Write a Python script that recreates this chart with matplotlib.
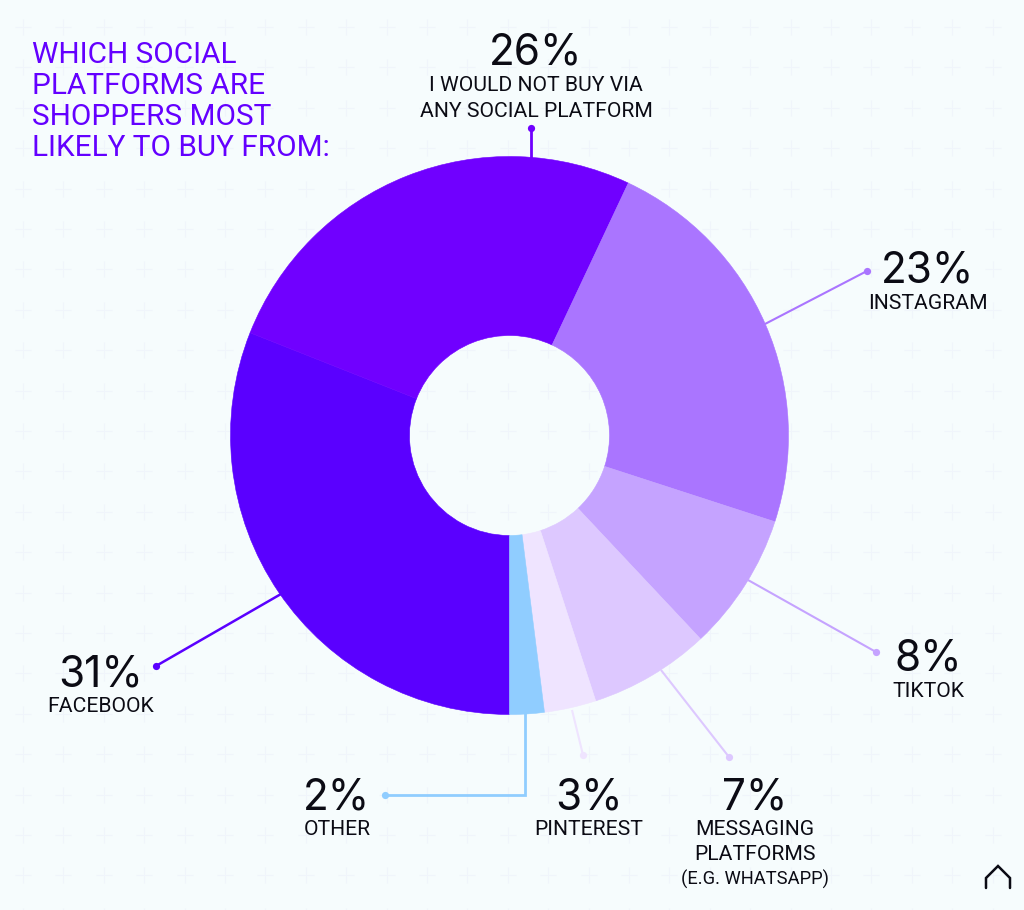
import matplotlib
matplotlib.use("Agg")
import matplotlib.pyplot as plt

W, H = 1024, 910
BG = "#F6FCFD"
INK = "#0B0B14"
LABEL_FONT = "Roboto"

platforms = ["Facebook", "I would not buy via any social platform", "Instagram",
             "TikTok", "Messaging platforms", "Pinterest", "Other"]
values = [31, 26, 23, 8, 7, 3, 2]
colors = ["#5A00FF", "#7000FF", "#AA75FF", "#C5A3FF", "#DDC8FF", "#EFE4FF", "#90CDFF"]
title_lines = ["WHICH SOCIAL", "PLATFORMS ARE", "SHOPPERS MOST", "LIKELY TO BUY FROM:"]

fig = plt.figure(figsize=(W / 100, H / 100), dpi=100, facecolor=BG)

# pixel overlay
ov = fig.add_axes([0, 0, 1, 1], zorder=1)
ov.set_xlim(0, W); ov.set_ylim(H, 0); ov.axis("off")

# faint background plus signs
xs = [23 + 40.4 * i for i in range(26)]
ys = [27 + 40.4 * i for i in range(23)]
ov.plot([x for x in xs for y in ys], [y for x in xs for y in ys], ls="", marker="+",
        ms=11, mew=0.8, color="#F0F5FB", zorder=0)

# donut
cx, cy, R = 509.5, 435.5, 279
ax = fig.add_axes([(cx - R) / W, 1 - (cy + R) / H, 2 * R / W, 2 * R / H], zorder=2)
wedges, _ = ax.pie(values, colors=colors, startangle=270, counterclock=False, radius=1,
                   wedgeprops=dict(width=1 - 100 / R, linewidth=0))
for w, c in zip(wedges, colors):
    w.set_edgecolor(c)
    w.set_linewidth(0.4)
ax.set_xlim(-1, 1); ax.set_ylim(-1, 1)
ax.set_aspect("equal")
ax.patch.set_alpha(0)

# leader lines
def leader(pts, color, lw):
    x = [p[0] for p in pts]; y = [p[1] for p in pts]
    ov.plot(x, y, color=color, lw=lw, solid_capstyle="butt", solid_joinstyle="miter", zorder=1)
    ov.plot([x[-1]], [y[-1]], "o", ms=5.2, color=color, mew=0, zorder=1)

leader([(531, 158), (531, 128)], colors[1], 2.0)
leader([(765, 324), (867, 271)], colors[2], 1.5)
leader([(748, 580), (876, 652)], colors[3], 1.5)
leader([(661, 670), (729, 757)], colors[4], 1.5)
leader([(572, 710), (583, 755)], colors[5], 1.5)
leader([(525, 712), (525, 795), (385, 795)], colors[6], 2.0)
leader([(281, 594), (156, 666)], colors[0], 1.8)

def pct(x, y, s, size=30.5):
    ov.text(x, y + 4, s, ha="center", va="center", fontsize=size, color=INK,
            family="Inter", fontweight="normal")

def lab(x, y, s, size=15.2):
    ov.text(x, y + 1.5, s, ha="center", va="center", fontsize=size, color=INK, family=LABEL_FONT)

# title
for i, line in enumerate(title_lines):
    ov.text(32, 55 + i * 31, line, ha="left", va="center", fontsize=21.4,
            color="#6400FF", family=LABEL_FONT)

pct(536, 49, f"{values[1]}%")
lab(536, 84, "I WOULD NOT BUY VIA")
lab(536, 110, "ANY SOCIAL PLATFORM")
pct(928, 267, f"{values[2]}%")
lab(928, 302, "INSTAGRAM")
pct(928, 655, f"{values[3]}%")
lab(928, 690, "TIKTOK")
pct(101, 671, f"{values[0]}%")
lab(101, 705, "FACEBOOK")
pct(337, 794, f"{values[6]}%")
lab(337, 828, "OTHER")
pct(589, 794, f"{values[5]}%")
lab(589, 828, "PINTEREST")
pct(755, 794, f"{values[4]}%")
lab(755, 828, "MESSAGING")
lab(755, 853, "PLATFORMS")
lab(755, 878, "(E.G. WHATSAPP)", 13.2)

# corner house glyph
ov.plot([986, 986, 998, 1010, 1010], [888, 878, 866, 878, 888], color=INK, lw=1.8,
        solid_joinstyle="miter", solid_capstyle="round", zorder=3)

fig.savefig("out.png", dpi=100, facecolor=BG)
